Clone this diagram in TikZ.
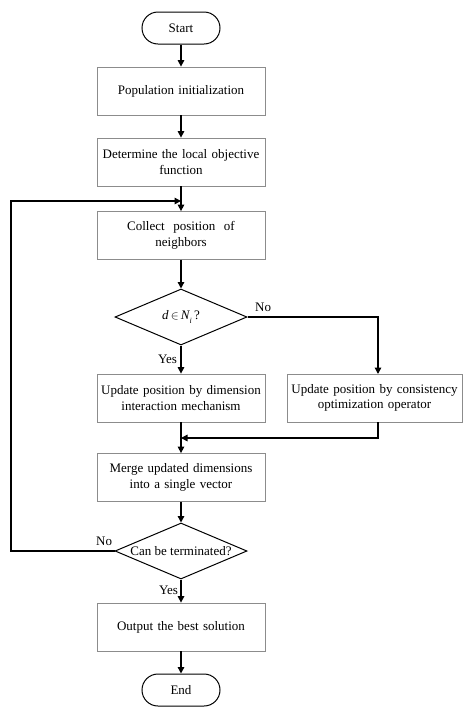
\documentclass[tikz,border=0pt]{standalone}
\usepackage{fontspec}
\setmainfont{Liberation Serif}
\usetikzlibrary{shapes.geometric,arrows.meta}
\begin{document}
\begin{tikzpicture}[x=1pt,y=-1pt,
  font=\fontsize{13}{15.5}\selectfont,
  box/.style={draw=black!45,line width=0.8pt,minimum width=166pt,minimum height=48pt,inner sep=2pt,align=center,text width=164pt},
  term/.style={draw=black,line width=1pt,rounded corners=16pt,minimum width=78pt,minimum height=32pt,inner sep=0pt},
  decision/.style={draw=black,line width=1pt,diamond,aspect=2.36,minimum width=132pt,minimum height=56pt,inner sep=-4pt},
  arr/.style={draw=black,line width=1.4pt,-{Triangle[length=6.5pt,width=6.5pt]}},
  ln/.style={draw=black,line width=1.4pt}]
\useasboundingbox (0,0) rectangle (474,713);
\node[term] (start) at (181,28) {Start};
\node[box] (pop) at (181,91) {Population initialization};
\node[box] (det) at (181,162) {Determine the local objective\\function};
\node[box] (col) at (181,235.5) {Collect\ \ position\ \ of\\neighbors};
\node[decision] (d1) at (181,317) {\textit{d}\,$\in$\,\textit{N}\kern-0.5pt\raisebox{-0.25em}{\fontsize{8}{8}\selectfont\textit{i}}\,?};
\node[box] (upl) at (181,398) {Update position by dimension\\interaction mechanism};
\node[box,minimum width=173pt,text width=171pt] (upr) at (374.5,398) {Update position by consistency\\optimization operator};
\node[box] (mer) at (181,477.5) {Merge updated dimensions\\into a single vector};
\node[decision] (d2) at (181,551) {Can be terminated?};
\node[box] (out) at (181,627) {Output the best solution};
\node[term] (end) at (181,690) {End};
\coordinate (loopin) at (181,201);
\coordinate (mergein) at (181,438);
\draw[arr] (start) -- (pop);
\draw[arr] (pop) -- (det);
\draw[arr] (det) -- (col);
\draw[arr] (col) -- (d1);
\draw[arr] (d1) -- node[pos=0.5,left=0pt] {Yes} (upl);
\draw[arr] (d1.east) -- node[pos=0.12,above=1pt] {No} (378,317) -- (378,374);
\draw[arr] (upl) -- (mer);
\draw[arr] (upr.south -| 378,0) |- (mergein);
\draw[arr] (mer) -- (d2);
\draw[arr] (d2) -- node[pos=0.45,left=-1pt] {Yes} (out);
\draw[arr] (out) -- (end);
\draw[arr] (d2.west) -- node[pos=0.1,above=1pt] {No} (11,551) -- (11,201) -- (loopin);
\end{tikzpicture}
\end{document}
